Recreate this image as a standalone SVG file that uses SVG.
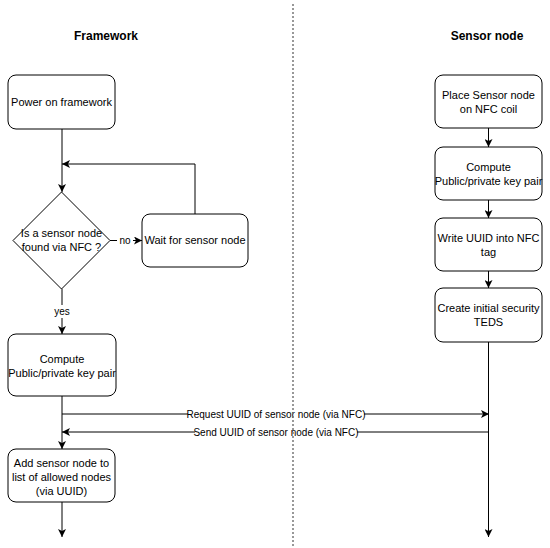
<svg xmlns="http://www.w3.org/2000/svg" width="550" height="548" viewBox="0 0 550 548">
<defs>
<marker id="arr" markerWidth="9" markerHeight="8" refX="8" refY="4" orient="auto" markerUnits="userSpaceOnUse">
<path d="M0,0 L8,4 L0,8 L2,4 z" fill="#000"/>
</marker>
<style>
.box{fill:#fff;stroke:#000;stroke-width:1}
.t{font-family:"Liberation Sans",Arial,sans-serif;font-size:11px;fill:#000;text-anchor:middle}
.h{font-family:"Liberation Sans",Arial,sans-serif;font-size:12px;font-weight:bold;fill:#000;text-anchor:middle}
.l{font-family:"Liberation Sans",Arial,sans-serif;font-size:10px;fill:#000;text-anchor:middle}
.c{fill:none;stroke:#000;stroke-width:1}
.ca{fill:none;stroke:#000;stroke-width:1;marker-end:url(#arr)}
</style>
</defs>
<rect width="550" height="548" fill="#fff"/>
<text class="h" x="106" y="40">Framework</text>
<text class="h" x="487" y="40">Sensor node</text>
<g id="connectors">
<path class="ca" d="M62,129 V192"/>
<path class="ca" d="M195,214 V164 H62"/>
<path class="ca" d="M110,240.5 H142"/>
<path class="ca" d="M62,289 V334"/>
<path class="ca" d="M62,396 V449"/>
<path class="ca" d="M62,502 V537"/>
<path class="ca" d="M62,414 H489"/>
<path class="ca" d="M489,432 H62"/>
<path class="ca" d="M488.5,128 V147"/>
<path class="ca" d="M488.5,200 V218"/>
<path class="ca" d="M488.5,271 V288"/>
<path class="ca" d="M488.5,342 V537"/>
<rect x="117" y="234" width="16" height="12" fill="#fff"/>
<text class="l" x="125" y="244">no</text>
<rect x="51" y="305" width="22" height="13" fill="#fff"/>
<text class="l" x="62" y="315">yes</text>
<rect x="188" y="408" width="176" height="12" fill="#fff"/>
<text class="l" x="276" y="417.5">Request UUID of sensor node (via NFC)</text>
<rect x="195" y="426" width="162" height="12" fill="#fff"/>
<text class="l" x="276" y="435.5">Send UUID of sensor node (via NFC)</text>
</g>
<g id="power">
<rect class="box" x="8" y="75" width="107" height="54" rx="8"/>
<text class="t" x="61.5" y="106">Power on framework</text>
</g>
<g id="decision">
<path class="box" d="M61.5,192 L110,240.5 L61.5,289 L13,240.5 Z"/>
<text class="t" x="61.5" y="237">Is a sensor node</text>
<text class="t" x="61.5" y="251">found via NFC ?</text>
</g>
<g id="wait">
<rect class="box" x="142" y="214" width="106" height="53" rx="8"/>
<text class="t" x="195" y="244">Wait for sensor node</text>
</g>
<g id="fw-compute">
<rect class="box" x="8" y="334" width="108" height="62" rx="8"/>
<text class="t" x="62" y="363">Compute</text>
<text class="t" x="62" y="377">Public/private key pair</text>
</g>
<g id="add">
<rect class="box" x="8" y="449" width="107" height="53" rx="8"/>
<text class="t" x="61.5" y="467">Add sensor node to</text>
<text class="t" x="61.5" y="481">list of allowed nodes</text>
<text class="t" x="61.5" y="495">(via UUID)</text>
</g>
<g id="place">
<rect class="box" x="435" y="75" width="107" height="53" rx="8"/>
<text class="t" x="488.5" y="99">Place Sensor node</text>
<text class="t" x="488.5" y="113">on NFC coil</text>
</g>
<g id="sn-compute">
<rect class="box" x="435" y="147" width="107" height="53" rx="8"/>
<text class="t" x="488.5" y="171">Compute</text>
<text class="t" x="488.5" y="185">Public/private key pair</text>
</g>
<g id="write">
<rect class="box" x="435" y="218" width="107" height="53" rx="8"/>
<text class="t" x="488.5" y="242">Write UUID into NFC</text>
<text class="t" x="488.5" y="256">tag</text>
</g>
<g id="teds">
<rect class="box" x="435" y="288" width="107" height="54" rx="8"/>
<text class="t" x="488.5" y="312">Create initial security</text>
<text class="t" x="488.5" y="326">TEDS</text>
</g>
<line x1="293" y1="4" x2="293" y2="548" stroke="#777" stroke-width="1.5" stroke-dasharray="2,2"/>
</svg>
